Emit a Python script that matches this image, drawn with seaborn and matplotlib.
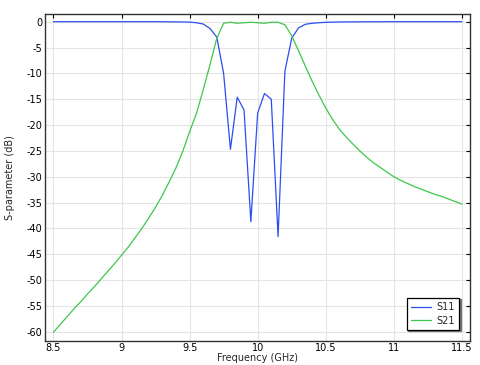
import numpy as np
import pandas as pd
import matplotlib
matplotlib.use('Agg')
import matplotlib.pyplot as plt
import seaborn as sns

# frecuencias (GHz), paso 0.05
freq = np.round(np.arange(8.5, 11.5001, 0.05), 2)

s11 = [0.0, 0.0, 0.0, 0.0, 0.0, 0.0, 0.0, 0.0, 0.0, 0.0,
       0.0, 0.0, 0.0, 0.0, 0.0, 0.0, -0.01, -0.02, -0.03, -0.05,
       -0.08, -0.2, -0.45, -1.3, -3.0, -10.0, -24.7, -14.6, -17.1, -38.7,
       -17.7, -13.9, -15.0, -41.6, -9.6, -3.2, -1.2, -0.5, -0.3, -0.2,
       -0.12, -0.08, -0.06, -0.04, -0.03, -0.02, -0.02, -0.01, -0.01, 0.0,
       0.0, 0.0, 0.0, 0.0, 0.0, 0.0, 0.0, 0.0, 0.0, 0.0, 0.0]

s21 = [-60.1, -58.6, -57.1, -55.6, -54.2, -52.7, -51.3, -49.8, -48.3, -46.8,
       -45.2, -43.6, -41.8, -40.0, -38.0, -35.9, -33.6, -31.0, -28.3, -25.1,
       -21.3, -17.8, -13.2, -8.3, -3.2, -0.3, -0.1, -0.3, -0.2, -0.1,
       -0.2, -0.3, -0.1, -0.1, -0.6, -2.7, -5.6, -8.6, -11.5, -14.2,
       -16.7, -18.9, -20.8, -22.3, -23.7, -25.0, -26.2, -27.3, -28.2, -29.1,
       -30.0, -30.7, -31.3, -31.9, -32.4, -32.9, -33.4, -33.8, -34.3, -34.8, -35.3]

xticks = [8.5, 9, 9.5, 10, 10.5, 11, 11.5]
xtick_labels = ['8.5', '9', '9.5', '10', '10.5', '11', '11.5']
yticks = list(range(0, -61, -5))

df = pd.concat([
    pd.DataFrame({'freq': freq, 'val': s11, 'serie': 'S11'}),
    pd.DataFrame({'freq': freq, 'val': s21, 'serie': 'S21'}),
], ignore_index=True)

sns.set_style('white')
plt.rcParams['font.family'] = ['DejaVu Sans']
plt.rcParams['axes.unicode_minus'] = False

fig = plt.figure(figsize=(4.8, 3.65), dpi=100)
ax = fig.add_axes([0.094, 0.0666, 0.885, 0.895])

sns.lineplot(data=df, x='freq', y='val', hue='serie', estimator=None, sort=False,
             palette={'S11': '#2d4df2', 'S21': '#3ec74c'}, linewidth=0.9, ax=ax)

ax.set_xlim(8.439, 11.559)
ax.set_ylim(-61.74, 1.49)
ax.set_xticks(xticks)
ax.set_xticklabels(xtick_labels)
ax.set_yticks(yticks)
ax.grid(True, color='#e4e4e4', linewidth=0.8)
ax.set_axisbelow(True)
ax.tick_params(direction='in', top=True, right=True, length=3, width=0.8,
               labelsize=7, pad=2, colors='black')
for sp in ax.spines.values():
    sp.set_color('#333333')
    sp.set_linewidth(1.0)

ax.set_xlabel('Frequency (GHz)', fontsize=7, labelpad=0)
ax.set_ylabel('S-parameter (dB)', fontsize=7, labelpad=8)

leg = ax.legend(loc='lower right', fontsize=7, fancybox=False, edgecolor='black',
                framealpha=1, handlelength=2.0, handletextpad=0.6, borderpad=0.45,
                labelspacing=0.35, borderaxespad=1.1,
                shadow={'color': '0.45', 'alpha': 1, 'ox': 1.0, 'oy': -1.0})
leg.get_frame().set_linewidth(0.9)
leg.set_title(None)

fig.savefig('out.png', dpi=100)
